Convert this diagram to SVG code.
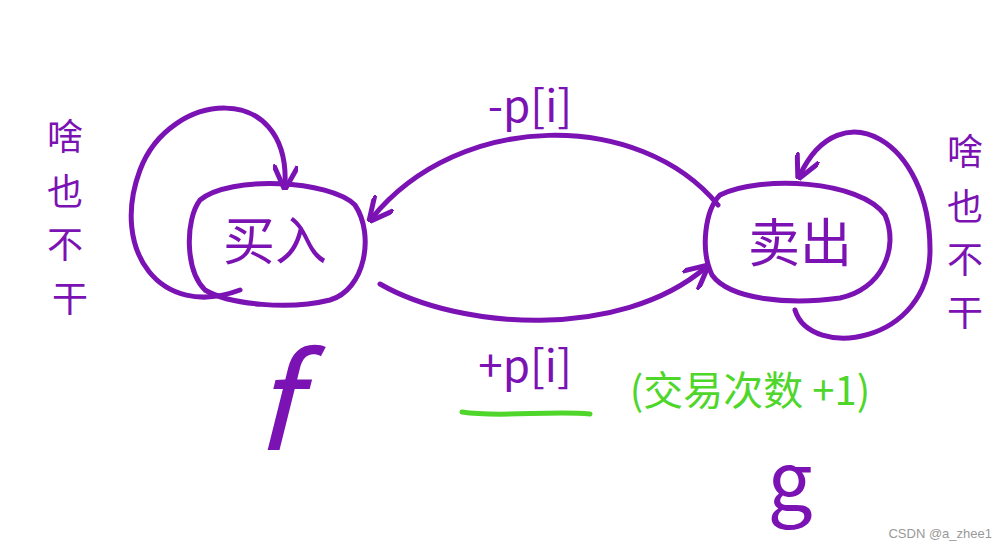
<svg xmlns="http://www.w3.org/2000/svg" width="1003" height="549" viewBox="0 0 1003 549">
<style>
.s{fill:none;stroke:#7b12b3;stroke-width:5;stroke-linecap:round;stroke-linejoin:round}
.t{fill:#7b12b3;font-family:"Noto Sans CJK SC","Noto Sans",sans-serif}
.g{fill:#4fd62a;font-family:"Noto Sans CJK SC","Noto Sans",sans-serif}
</style>
<defs><marker id="a" viewBox="0 0 10 10" refX="8" refY="5" markerWidth="5" markerHeight="5" orient="auto"><path d="M0,0L10,5L0,10" fill="none" stroke="#7b12b3" stroke-width="2"/></marker></defs>
<rect width="1003" height="549" fill="#fff"/>
<g id="buy"><path class="s" d="M200,200 C230,175 330,180 355,205 C375,235 365,290 330,300 C290,310 230,305 205,290 C185,270 185,220 200,200Z"/><text class="t" x="275" y="260" font-size="52" text-anchor="middle">买入</text></g>
<g id="sell"><path class="s" d="M720,195 C760,175 860,180 885,215 C900,250 880,290 840,298 C790,305 730,300 712,275 C700,250 705,210 720,195Z"/><text class="t" x="800" y="262" font-size="52" text-anchor="middle">卖出</text></g>
<g id="connectors">
<path class="s" marker-end="url(#a)" d="M718,205 C640,110 460,110 372,218"/>
<path class="s" marker-end="url(#a)" d="M380,284 C460,330 620,340 705,268"/>
<path class="s" marker-end="url(#a)" d="M240,290 C160,320 110,250 140,170 C170,90 290,80 285,185"/>
<path class="s" marker-end="url(#a)" d="M795,310 C810,360 930,345 930,250 C930,140 840,90 800,175"/>
</g>
<g id="labels">
<text class="t" font-size="36" x="65" y="150" text-anchor="middle">啥</text>
<text class="t" font-size="36" x="65" y="205" text-anchor="middle">也</text>
<text class="t" font-size="36" x="65" y="258" text-anchor="middle">不</text>
<text class="t" font-size="36" x="70" y="312" text-anchor="middle">干</text>
<text class="t" font-size="36" x="965" y="165" text-anchor="middle">啥</text>
<text class="t" font-size="36" x="965" y="220" text-anchor="middle">也</text>
<text class="t" font-size="36" x="965" y="273" text-anchor="middle">不</text>
<text class="t" font-size="36" x="965" y="326" text-anchor="middle">干</text>
<text class="t" font-size="44" x="530" y="122" text-anchor="middle">-p[i]</text>
<text class="t" font-size="44" x="525" y="382" text-anchor="middle">+p[i]</text>
<path d="M462,412 C500,418 550,410 590,414" stroke="#4fd62a" stroke-width="5" fill="none" stroke-linecap="round"/>
<text class="g" font-size="40" x="750" y="405" text-anchor="middle">(交易次数 +1)</text>
<text class="t" font-size="130" x="275" y="450" font-style="italic" text-anchor="middle" font-family="Liberation Serif">f</text>
<text class="t" font-size="80" x="790" y="510" text-anchor="middle" font-family="Liberation Sans">g</text>
<text x="992" y="538" font-size="13" fill="#999" text-anchor="end" font-family="Liberation Sans">CSDN @a_zhee1</text>
</g>
</svg>
